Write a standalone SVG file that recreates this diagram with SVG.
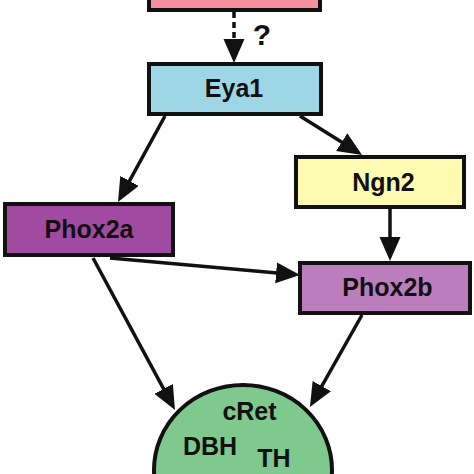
<svg xmlns="http://www.w3.org/2000/svg" width="474" height="474" viewBox="0 0 474 474">
  <defs>
    <marker id="arrow" markerUnits="userSpaceOnUse" markerWidth="26" markerHeight="22" refX="4" refY="10.5" orient="auto">
      <path d="M0,0 L24,10.5 L0,21 Z" fill="#111"/>
    </marker>
    <style>
      .box { stroke: #111; stroke-width: 4; }
      .lbl { font-family: "Liberation Sans", Arial, sans-serif; font-weight: bold; font-size: 25px; fill: #111; text-anchor: middle; }
      .edge { stroke: #111; stroke-width: 3.5; fill: none; marker-end: url(#arrow); }
    </style>
  </defs>
  <rect width="474" height="474" fill="#ffffff"/>

  <g id="connectors">
    <line class="edge" x1="234" y1="12" x2="234" y2="43" stroke-dasharray="6,4"/>
    <line class="edge" x1="165" y1="116" x2="127.6" y2="184.4"/>
    <line class="edge" x1="300" y1="116" x2="345.1" y2="144.3"/>
    <line class="edge" x1="390" y1="209" x2="390" y2="241"/>
    <line class="edge" x1="110" y1="258" x2="280.1" y2="273.2"/>
    <line class="edge" x1="93" y1="258" x2="165.5" y2="392.4"/>
    <line class="edge" x1="362" y1="315" x2="319.8" y2="389.6"/>
    <text class="lbl" x="262" y="45" style="font-size:30px">?</text>
  </g>

  <g id="node-top">
    <rect class="box" x="149" y="-40" width="171" height="50" fill="#f3909d"/>
  </g>
  <g id="node-eya1">
    <rect class="box" x="149" y="64" width="172" height="50" fill="#9ed6e6"/>
    <text class="lbl" x="234" y="97">Eya1</text>
  </g>
  <g id="node-ngn2">
    <rect class="box" x="296" y="157" width="168" height="50" fill="#fdfbb1"/>
    <text class="lbl" x="383.5" y="191">Ngn2</text>
  </g>
  <g id="node-phox2a">
    <rect class="box" x="5" y="204" width="168" height="51" fill="#a04aa2"/>
    <text class="lbl" x="89" y="238">Phox2a</text>
  </g>
  <g id="node-phox2b">
    <rect class="box" x="300" y="263" width="170" height="50" fill="#bb7dbd"/>
    <text class="lbl" x="387.5" y="296">Phox2b</text>
  </g>
  <g id="node-targets">
    <ellipse class="box" cx="243" cy="470" rx="89" ry="85" fill="#7fc98f"/>
    <text class="lbl" x="249.5" y="420">cRet</text>
    <text class="lbl" x="210" y="455">DBH</text>
    <text class="lbl" x="274" y="467">TH</text>
  </g>
</svg>
